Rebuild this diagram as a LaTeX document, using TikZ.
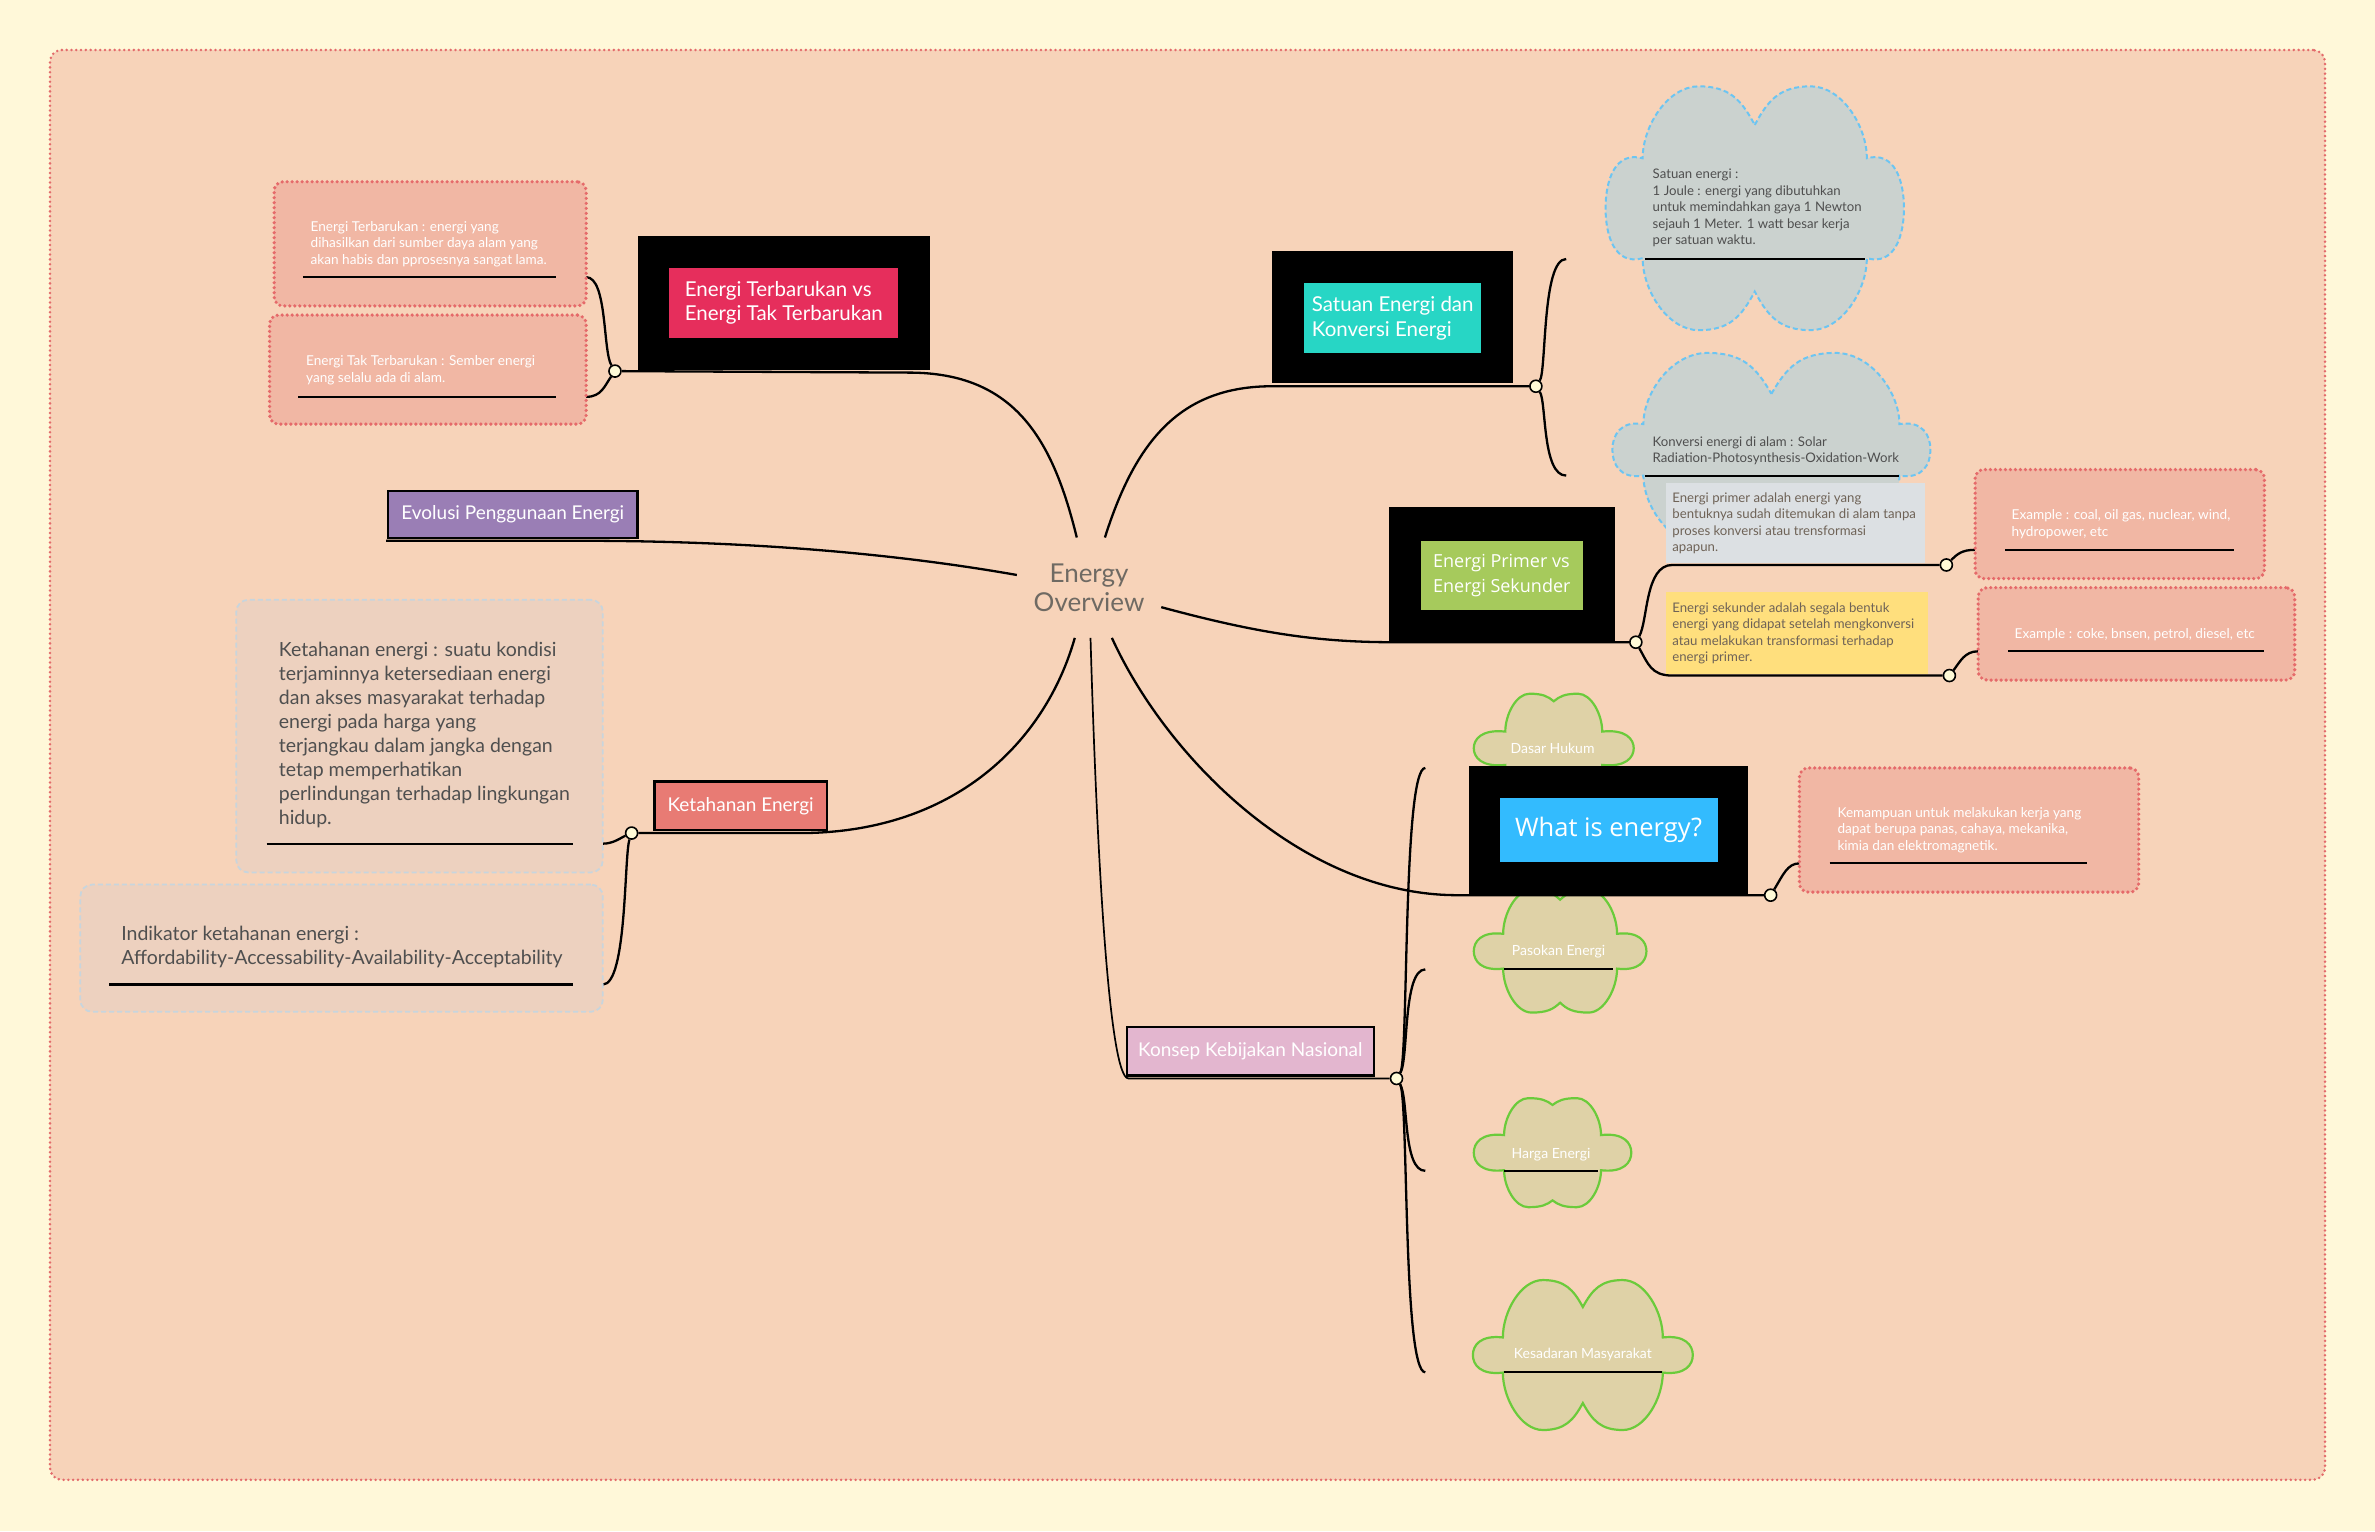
\documentclass[tikz,border=0pt]{standalone}
\usepackage{fontspec}
\setmainfont{Lato}
\newfontfamily\robo{Open Sans}
\usetikzlibrary{fit,calc}
\pgfdeclarelayer{back}
\pgfdeclarelayer{clouds}
\pgfdeclarelayer{lines}
\pgfsetlayers{back,clouds,lines,main}

\definecolor{pagebg}{HTML}{FFF8D9}
\definecolor{framefill}{HTML}{F7D3B9}
\definecolor{framered}{HTML}{E36B6B}
\definecolor{salmon}{HTML}{F1B7A4}
\definecolor{dotred}{HTML}{E56A6A}
\definecolor{softbox}{HTML}{EDD1BF}
\definecolor{softline}{HTML}{C8D5DD}
\definecolor{cloudgray}{HTML}{CBD2CF}
\definecolor{cloudblue}{HTML}{6CC5F2}
\definecolor{primergray}{HTML}{DCE0E3}
\definecolor{sekyellow}{HTML}{FFDF7D}
\definecolor{khaki}{HTML}{DFD2A7}
\definecolor{leafgreen}{HTML}{6BCB3B}
\definecolor{knobfill}{HTML}{FFFAD7}
\definecolor{crimson}{HTML}{E62E5C}
\definecolor{tealc}{HTML}{27D6C5}
\definecolor{limec}{HTML}{A6CA5C}
\definecolor{skyc}{HTML}{33BBFE}
\definecolor{evolpurple}{HTML}{9A7EB5}
\definecolor{ketred}{HTML}{E87B74}
\definecolor{konpink}{HTML}{E3B6CF}
\definecolor{ovtext}{HTML}{6F6A63}
\definecolor{darktext}{HTML}{4F4F4F}
\definecolor{primtext}{HTML}{6F6357}

\tikzset{
  frameshape/.style={draw=framered, fill=framefill, line width=2.8pt, dash pattern=on 0pt off 4.8pt, line cap=round, rounded corners=12pt, inner sep=0pt, outer sep=0pt},
  salmonbox/.style={draw=dotred, fill=salmon, line width=3.6pt, dash pattern=on 0pt off 5pt, line cap=round, rounded corners=9pt, inner sep=0pt, outer sep=0pt},
  softrect/.style={draw=softline, fill=softbox, line width=1.8pt, dash pattern=on 5pt off 3pt, rounded corners=12pt, inner sep=0pt, outer sep=0pt},
  flatrect/.style={inner sep=0pt, outer sep=0pt},
  blackbox/.style={fill=black, inner sep=0pt, outer sep=0pt},
  labelbox/.style={draw=black, line width=2.4pt, inner sep=0pt, outer sep=0pt},
  graycloud/.style={draw=cloudblue, fill=cloudgray, line width=2pt, dash pattern=on 5pt off 3pt},
  greencloud/.style={draw=leafgreen, fill=khaki, line width=2.2pt},
  conn/.style={draw=black, line width=2.3pt},
  thinconn/.style={draw=black, line width=1.7pt},
  uline/.style={draw=black, line width=2.2pt},
  knob/.style={circle, draw=black, fill=knobfill, line width=1.6pt, minimum size=12pt, inner sep=0pt},
  smalltxt/.style={align=left, inner sep=0pt, anchor=west, font=\fontsize{13.2}{16.5}\selectfont},
  whitesmall/.style={smalltxt, text=white, font=\fontsize{13.6}{16.5}\selectfont},
  bigtxt/.style={align=left, inner sep=0pt, anchor=west, text=darktext, font=\fontsize{19.5}{24}\selectfont},
  titletxt/.style={align=left, inner sep=0pt, text=white, font=\fontsize{20.5}{24.5}\selectfont},
  roboTitle/.style={align=left, inner sep=0pt, text=white, font=\robo\fontsize{18}{24.5}\selectfont},
  tagtxt/.style={inner sep=0pt, text=white, font=\fontsize{19}{22}\selectfont},
  cloudtxt/.style={inner sep=0pt, text=white, font=\fontsize{14}{16}\selectfont},
}

% cloud path: style, cx, cy, W (half width to lobe tip), B (body half width), H (half height), s (side lobe half height), D (dip depth)
\newcommand{\mmcloud}[8]{%
\path[#1] ({#2},{#3-#8})
 .. controls ({#2+0.12*#5},{#3-#8-0.65*(#6-#8)}) and ({#2+0.225*#5},{#3-#6}) .. ({#2+0.5*#5},{#3-#6})
 .. controls ({#2+0.775*#5},{#3-#6}) and ({#2+#5},{#3-#6+0.55*(#6-#7)}) .. ({#2+#5},{#3-#7})
 .. controls ({#2+#5+0.75*(#4-#5)},{#3-1.15*#7}) and ({#2+#4},{#3-0.55*#7}) .. ({#2+#4},{#3})
 .. controls ({#2+#4},{#3+0.55*#7}) and ({#2+#5+0.75*(#4-#5)},{#3+1.15*#7}) .. ({#2+#5},{#3+#7})
 .. controls ({#2+#5},{#3+#6-0.55*(#6-#7)}) and ({#2+0.775*#5},{#3+#6}) .. ({#2+0.5*#5},{#3+#6})
 .. controls ({#2+0.225*#5},{#3+#6}) and ({#2+0.12*#5},{#3+#8+0.65*(#6-#8)}) .. ({#2},{#3+#8})
 .. controls ({#2-0.12*#5},{#3+#8+0.65*(#6-#8)}) and ({#2-0.225*#5},{#3+#6}) .. ({#2-0.5*#5},{#3+#6})
 .. controls ({#2-0.775*#5},{#3+#6}) and ({#2-#5},{#3+#6-0.55*(#6-#7)}) .. ({#2-#5},{#3+#7})
 .. controls ({#2-#5-0.75*(#4-#5)},{#3+1.15*#7}) and ({#2-#4},{#3+0.55*#7}) .. ({#2-#4},{#3})
 .. controls ({#2-#4},{#3-0.55*#7}) and ({#2-#5-0.75*(#4-#5)},{#3-1.15*#7}) .. ({#2-#5},{#3-#7})
 .. controls ({#2-#5},{#3-#6+0.55*(#6-#7)}) and ({#2-0.775*#5},{#3-#6}) .. ({#2-0.5*#5},{#3-#6})
 .. controls ({#2-0.225*#5},{#3-#6}) and ({#2-0.12*#5},{#3-#8-0.65*(#6-#8)}) .. ({#2},{#3-#8})
 -- cycle;}

\begin{document}
\begin{tikzpicture}[x=1.5147pt,y=-1.5147pt]
\useasboundingbox (0,0) rectangle (1568,1011);

\begin{pgfonlayer}{back}
\fill[pagebg] (0,0) rectangle (1568,1011);
\node[frameshape, fit={(33,33)(1535,977)}] (frame) {};
\end{pgfonlayer}

\begin{pgfonlayer}{clouds}
\mmcloud{graycloud}{1158.5}{137.5}{98.5}{74}{80.5}{33}{55}
\mmcloud{graycloud}{1169.5}{297}{105}{84.5}{64}{17}{37}
\mmcloud{greencloud}{1025.8}{494}{52.8}{32}{36}{11}{31}
\mmcloud{greencloud}{1030}{628}{57}{37.6}{40.5}{11.5}{34}
\mmcloud{greencloud}{1025}{761}{52}{32}{36}{11.6}{31.5}
\mmcloud{greencloud}{1045}{894.6}{72.6}{52.8}{49.5}{11.6}{31.7}
\end{pgfonlayer}

% central topic
\node[minimum width=144pt, minimum height=100pt, inner sep=0pt, align=center, text=ovtext, font=\fontsize{26}{29}\selectfont] (center) at (719,388) {Energy\\Overview};

% ---- Energi Terbarukan vs Energi Tak Terbarukan
\node[blackbox, fit={(421,156)(614,244)}] (bb1) {};
\node[flatrect, fill=crimson, fit={(442,177)(593,223)}] (in1) {};
\node[titletxt] (t1) at (in1.center) {Energi Terbarukan vs\\Energi Tak Terbarukan};

\node[salmonbox, fit={(181,120)(387,202)}] (boxA) {};
\node[whitesmall] (txtA) at (205,161) {Energi Terbarukan : energi yang\\dihasilkan dari sumber daya alam yang\\akan habis dan pprosesnya sangat lama.};
\draw[uline] (200,183) -- (367,183);
\node[salmonbox, fit={(178,208)(387,280)}] (boxB) {};
\node[whitesmall] (txtB) at (202,244.5) {Energi Tak Terbarukan : Sember energi\\yang selalu ada di alam.};
\draw[uline] (197,262) -- (367,262);

% ---- Satuan Energi dan Konversi Energi
\node[blackbox, fit={(840,166)(999,253)}] (bb2) {};
\node[flatrect, fill=tealc, fit={(861,187)(978,233)}] (in2) {};
\node[titletxt] (t2) at (in2.center) {Satuan Energi dan\\Konversi Energi};
\node[smalltxt, text=darktext] (txtS1) at (1091,137.5) {Satuan energi :\\1 Joule : energi yang dibutuhkan\\untuk memindahkan gaya 1 Newton\\sejauh 1 Meter. 1 watt besar kerja\\per satuan waktu.};
\draw[uline] (1086,171) -- (1231,171);
\node[smalltxt, text=darktext] (txtS2) at (1091,297.5) {Konversi energi di alam : Solar\\Radiation-Photosynthesis-Oxidation-Work};
\draw[uline] (1086,314) -- (1254,314);

% ---- Energi Primer vs Energi Sekunder
\node[blackbox, fit={(917,335)(1066,423)}] (bb3) {};
\node[flatrect, fill=limec, fit={(938,357)(1045,403)}] (in3) {};
\node[roboTitle] (t3) at (in3.center) {Energi Primer vs\\Energi Sekunder};
\node[flatrect, fill=primergray, fit={(1100,319)(1271,372)}] (primbox) {};
\node[smalltxt, text=primtext] (txtP) at (1104,345.5) {Energi primer adalah energi yang\\bentuknya sudah ditemukan di alam tanpa\\proses konversi atau trensformasi\\apapun.};
\node[flatrect, fill=sekyellow, fit={(1100,391)(1273,445)}] (sekbox) {};
\node[smalltxt, text=primtext] (txtK) at (1104,418) {Energi sekunder adalah segala bentuk\\energi yang didapat setelah mengkonversi\\atau melakukan transformasi terhadap\\energi primer.};
\node[salmonbox, fit={(1304,310)(1495,382)}] (boxC) {};
\node[whitesmall] (txtC) at (1328,346) {Example : coal, oil gas, nuclear, wind,\\hydropower, etc};
\draw[uline] (1324,363) -- (1475,363);
\node[salmonbox, fit={(1306,388)(1515,449)}] (boxD) {};
\node[whitesmall] (txtD) at (1330,419) {Example : coke, bnsen, petrol, diesel, etc};
\draw[uline] (1326,430) -- (1495,430);

% ---- What is energy?
\node[blackbox, fit={(970,506)(1154,590)}] (bb4) {};
\node[flatrect, fill=skyc, fit={(990,527)(1134,569)}] (in4) {};
\node[inner sep=0pt, text=white, font=\robo\fontsize{25.5}{30}\selectfont] (t4) at (in4.center) {What is energy?};
\node[salmonbox, fit={(1188,507)(1412,589)}] (boxE) {};
\node[whitesmall] (txtE) at (1213,548) {Kemampuan untuk melakukan kerja yang\\dapat berupa panas, cahaya, mekanika,\\kimia dan elektromagnetik.};
\draw[uline] (1208,570) -- (1378,570);

% ---- Konsep Kebijakan Nasional
\node[labelbox, fill=konpink, fit={(744,678)(907,710)}] (konsep) {};
\node[tagtxt] (t5) at (konsep.center) {Konsep Kebijakan Nasional};
\node[cloudtxt] (cl1) at (1025,494) {Dasar Hukum};
\node[cloudtxt] (cl2) at (1029,628) {Pasokan Energi};
\draw[uline] (993,640) -- (1065,640);
\node[cloudtxt] (cl3) at (1024,762) {Harga Energi};
\draw[uline] (993,773) -- (1055,773);
\node[cloudtxt] (cl4) at (1045,894) {Kesadaran Masyarakat};
\draw[uline] (993,906) -- (1097,906);

% ---- Ketahanan Energi
\node[labelbox, fill=ketred, fit={(432,516)(546,548)}] (ketahanan) {};
\node[tagtxt] (t6) at (ketahanan.center) {Ketahanan Energi};
\node[softrect, fit={(156,396)(398,576)}] (boxF) {};
\node[bigtxt] (txtF) at (184,485.5) {Ketahanan energi : suatu kondisi\\terjaminnya ketersediaan energi\\dan akses masyarakat terhadap\\energi pada harga yang\\terjangkau dalam jangka dengan\\tetap memperhatikan\\perlindungan terhadap lingkungan\\hidup.};
\draw[uline] (176,557) -- (378,557);
\node[softrect, fit={(53,584)(398,668)}] (boxG) {};
\node[bigtxt] (txtG) at (80,625) {Indikator ketahanan energi :\\Affordability-Accessability-Availability-Acceptability};
\draw[uline] (72,650) -- (378,650);

% ---- Evolusi Penggunaan Energi
\node[labelbox, fill=evolpurple, fit={(256,324)(421,355)}] (evolusi) {};
\node[tagtxt] (t7) at (evolusi.center) {Evolusi Penggunaan Energi};

% knobs
\node[knob] (k1) at (406,245) {};
\node[knob] (k2) at (1014,255) {};
\node[knob] (k3) at (1080,424) {};
\node[knob] (k3a) at (1285,373) {};
\node[knob] (k3b) at (1287,446) {};
\node[knob] (k4) at (1169,591) {};
\node[knob] (k5) at (922,712) {};
\node[knob] (k6) at (417,550) {};

% connector ends
\coordinate (eA) at (387,183);
\coordinate (eB) at (387,262);
\coordinate (eS1) at (1034,171);
\coordinate (eS2) at (1034,314);
\coordinate (eC) at (1304,363);
\coordinate (eD) at (1306,430);
\coordinate (eE) at (1188,570);
\coordinate (eF) at (398,557);
\coordinate (eG) at (398,650);
\coordinate (eK1) at (941,507);
\coordinate (eK2) at (941,640);
\coordinate (eK3) at (941,773);
\coordinate (eK4) at (941,906);
\coordinate (eEvo) at (255,357);

\begin{pgfonlayer}{lines}
\draw[conn] (center) .. controls (695,290) and (670,246) .. (600,246) -- (k1);
\draw[conn] (center) .. controls (750,290) and (780,255) .. (840,255) -- (k2);
\draw[conn] (center) .. controls (830,418) and (870,424) .. (920,424) -- (k3);
\draw[conn] (center) .. controls (770,500) and (860,591) .. (962,591) -- (k4);
\draw[thinconn] (center) .. controls (724,560) and (732,712) .. (745,712) -- (k5);
\draw[conn] (center) .. controls (690,490) and (630,550) .. (528,550) -- (k6);
\draw[conn] (center) .. controls (560,360) and (450,357) .. (380,357) -- (eEvo);

\draw[conn] (k1) .. controls (398,232) and (401,183) .. (eA);
\draw[conn] (k1) .. controls (399,255) and (397,262) .. (eB);
\draw[conn] (k2) .. controls (1021,245) and (1018,171) .. (eS1);
\draw[conn] (k2) .. controls (1021,265) and (1018,314) .. (eS2);
\draw[conn] (k3) .. controls (1088,410) and (1086,373) .. (1104,373) -- (k3a);
\draw[conn] (k3) .. controls (1088,438) and (1090,446) .. (1104,446) -- (k3b);
\draw[conn] (k3a) .. controls (1292,366) and (1295,363) .. (eC);
\draw[conn] (k3b) .. controls (1294,437) and (1297,430) .. (eD);
\draw[conn] (k4) .. controls (1177,578) and (1180,570) .. (eE);
\draw[conn] (k6) .. controls (410,553) and (405,557) .. (eF);
\draw[conn] (k6) .. controls (412,565) and (414,650) .. (eG);
\draw[conn] (k5) .. controls (930,700) and (926,507) .. (eK1);
\draw[conn] (k5) .. controls (930,700) and (926,640) .. (eK2);
\draw[conn] (k5) .. controls (930,725) and (926,773) .. (eK3);
\draw[conn] (k5) .. controls (930,725) and (926,906) .. (eK4);
\end{pgfonlayer}
\end{tikzpicture}
\end{document}
